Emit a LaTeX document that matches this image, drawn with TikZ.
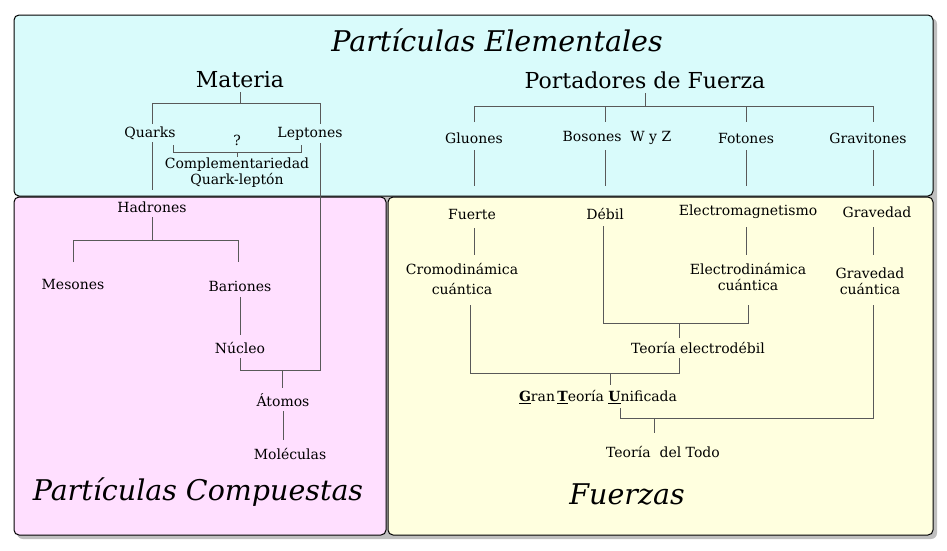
\documentclass[tikz,border=0pt]{standalone}
\usepackage{fontspec}
\setmainfont{DejaVu Serif}
\definecolor{cyb}{HTML}{D9FBFB}
\definecolor{pkb}{HTML}{FFDFFF}
\definecolor{ylb}{HTML}{FFFFDF}
\begin{document}
\begin{tikzpicture}[x=1pt,y=-1pt,
 lbl/.style={font=\fontsize{14}{16}\selectfont,inner sep=1pt,align=center},
 big/.style={font=\fontsize{22}{26}\selectfont},
 ttl/.style={font=\fontsize{28.5}{34}\selectfont\itshape},
 ln/.style={draw=black!65,line width=1pt},
 panel/.style={draw=black,line width=1pt,rounded corners=5pt}]
\useasboundingbox (0,0) rectangle (947,550);
\fill[black!25,rounded corners=6pt] (17,18) rectangle (937,539);
\filldraw[panel,fill=cyb] (14,15) rectangle (933,196);
\filldraw[panel,fill=pkb] (14,197) rectangle (386,535);
\filldraw[panel,fill=ylb] (388,197) rectangle (933,535);
% titles
\node[ttl] (t1) at (497,40) {Partículas Elementales};
\node[ttl] (t2) at (198,492) {Partículas Compuestas};
\node[ttl] (t3) at (627,494) {Fuerzas};
\node[big] (mat) at (240,80) {Materia};
\node[big] (por) at (645,80) {Portadores de Fuerza};
% matter
\node[lbl] (qk) at (150,133) {Quarks};
\node[lbl] (lp) at (310,134) {Leptones};
\node[lbl] (qm) at (237,140) {?};
\node[lbl] (cq) at (237,173) {Complementariedad\\Quark-leptón};
\node[lbl] (hd) at (152,207) {Hadrones};
\node[lbl] (ms) at (73,284) {Mesones};
\node[lbl] (br) at (240,286) {Bariones};
\node[lbl] (nc) at (240,348) {Núcleo};
\node[lbl] (at) at (283,400) {Átomos};
\node[lbl] (ml) at (290,454) {Moléculas};
\draw[ln] (240,92) -- (240,103) (152,124) |- (320,103) -- (320,124);
\draw[ln] (173,145) |- (301,152) -- (301,145) (237,152) -- (237,157);
\draw[ln] (152,142) -- (152,190);
\draw[ln] (320,143) -- (320,370) -- (240,370) -- (240,358);
\draw[ln] (152,217) -- (152,240) (73,262) |- (238,240) -- (238,262);
\draw[ln] (240,297) -- (240,335);
\draw[ln] (282,370) -- (282,388);
\draw[ln] (283,411) -- (283,440);
% forces
\node[lbl] (gl) at (474,138) {Gluones};
\node[lbl] (bw) at (617,138) {Bosones \ W y Z};
\node[lbl] (ft) at (746,138) {Fotones};
\node[lbl] (gv) at (868,138) {Gravitones};
\node[lbl] (fu) at (472,214) {Fuerte};
\node[lbl] (de) at (605,214) {Débil};
\node[lbl] (em) at (748,212) {Electromagnetismo};
\node[lbl] (gr) at (877,212) {Gravedad};
\node[lbl] (cd) at (462,279) {Cromodinámica\\[4pt]cuántica};
\node[lbl] (ed) at (748,277) {Electrodinámica\\cuántica};
\node[lbl] (gc) at (870,281) {Gravedad\\cuántica};
\node[lbl] (te) at (698,348) {Teoría electrodébil};
\node[lbl] (gu) at (598,397) {\underline{\textbf{G}}ran\,\underline{\textbf{T}}eoría \underline{\textbf{U}}nificada};
\node[lbl] (tt) at (663,452) {Teoría \ del Todo};
\draw[ln] (645,93) -- (645,106) (474,122) |- (873,106) -- (873,122)
  (605,106) -- (605,122) (746,106) -- (746,122);
\draw[ln] (474,150) -- (474,186) (605,150) -- (605,186) (746,150) -- (746,186) (873,150) -- (873,186);
\draw[ln] (474,228) -- (474,255) (746,227) -- (746,255) (873,227) -- (873,255);
\draw[ln] (603,226) |- (748,323) -- (748,305) (679,323) -- (679,338);
\draw[ln] (470,305) |- (679,373) -- (679,358) (610,373) -- (610,385);
\draw[ln] (620,408) |- (873,418) -- (873,305) (654,418) -- (654,433);
\end{tikzpicture}
\end{document}
